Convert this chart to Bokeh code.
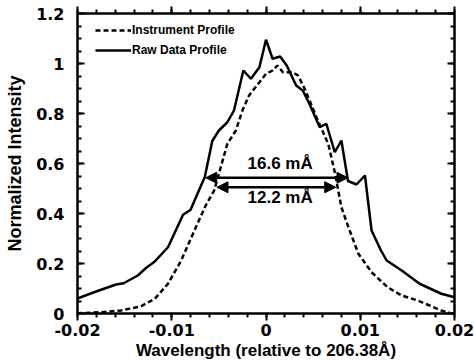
from bokeh.plotting import figure
from bokeh.models import (Legend, LegendItem, LinearAxis, FixedTicker, Arrow, NormalHead,
                          CustomJSTickFormatter, Range1d, Label)
from bokeh.embed import file_html
from bokeh.resources import INLINE

# Raw data profile (solid)
raw_x = [-0.0200, -0.0186, -0.0175, -0.0159, -0.0151, -0.0136, -0.0127, -0.0118, -0.0104,
         -0.0088, -0.0080, -0.0068, -0.0065, -0.0057, -0.0050, -0.0041, -0.0034, -0.0024,
         -0.0016, -0.0007, 0.0000, 0.0007, 0.0015, 0.0022, 0.0032, 0.0039, 0.0046, 0.0057,
         0.0064, 0.0073, 0.0080, 0.0087, 0.0096, 0.0105, 0.0112, 0.0122, 0.0128, 0.0144,
         0.0163, 0.0186, 0.0200]
raw_y = [0.060, 0.080, 0.095, 0.116, 0.121, 0.152, 0.183, 0.208, 0.265,
         0.395, 0.415, 0.520, 0.545, 0.690, 0.732, 0.765, 0.812, 0.972,
         0.939, 0.985, 1.095, 1.019, 1.028, 0.992, 0.912, 0.892, 0.839, 0.745,
         0.759, 0.645, 0.692, 0.530, 0.516, 0.552, 0.332, 0.252, 0.212, 0.172,
         0.119, 0.079, 0.065]

# Instrument profile (dashed)
inst_x = [-0.0200, -0.0175, -0.0154, -0.0133, -0.0118, -0.0104, -0.0090, -0.0076, -0.0064,
          -0.0055, -0.0051, -0.0041, -0.0032, -0.0025, -0.0018, -0.0007, 0.0000, 0.0007,
          0.0012, 0.0018, 0.0028, 0.0034, 0.0041, 0.0055, 0.0066, 0.0073, 0.0080, 0.0087,
          0.0098, 0.0112, 0.0129, 0.0144, 0.0161, 0.0186, 0.0195]
inst_y = [0.001, 0.005, 0.012, 0.028, 0.059, 0.119, 0.212, 0.332, 0.432,
          0.492, 0.545, 0.679, 0.732, 0.812, 0.872, 0.925, 0.959, 0.972,
          0.992, 0.965, 0.965, 0.952, 0.899, 0.772, 0.679, 0.565, 0.425, 0.350,
          0.239, 0.165, 0.105, 0.072, 0.052, 0.012, 0.003]

# Width annotations
width_labels = ["16.6 mÅ", "12.2 mÅ"]
width_x0 = [-0.0064, -0.0052]
width_x1 = [0.0087, 0.0074]
width_y = [0.543, 0.505]
width_label_x = [0.0015, 0.0015]
width_label_y = [0.601, 0.465]

x_ticks = [-0.02, -0.01, 0.0, 0.01, 0.02]
x_tick_labels = ["-0.02", "-0.01", "0", "0.01", "0.02"]
y_ticks = [0.0, 0.2, 0.4, 0.6, 0.8, 1.0, 1.2]
y_tick_labels = ["0", "0.2", "0.4", "0.6", "0.8", "1", "1.2"]
x_minor = [round(-0.02 + 0.002 * i, 4) for i in range(21)]
y_minor = [round(0.05 * i, 3) for i in range(25)]

FONT = "Liberation Sans"
TICKFONT = "DejaVu Sans"

p = figure(width=474, height=363, output_backend="svg", toolbar_location=None,
           x_range=Range1d(-0.02, 0.02), y_range=Range1d(0, 1.2),
           x_axis_type=None, y_axis_type=None,
           min_border_left=77, min_border_right=20, min_border_top=13, min_border_bottom=50)
p.grid.visible = False
p.outline_line_color = "black"
p.outline_line_width = 2
p.background_fill_color = "white"
p.border_fill_color = "white"

xt = FixedTicker(ticks=x_ticks, minor_ticks=x_minor)
yt = FixedTicker(ticks=y_ticks, minor_ticks=y_minor)
empty = CustomJSTickFormatter(code="return ''")


def style(ax, inward):
    ax.axis_line_width = 2
    ax.major_tick_line_width = 2
    ax.minor_tick_line_width = 2
    if inward:
        ax.major_tick_in, ax.major_tick_out = 7, 0
        ax.minor_tick_in, ax.minor_tick_out = 4, 0
    else:
        ax.major_tick_in, ax.major_tick_out = 0, 7
        ax.minor_tick_in, ax.minor_tick_out = 0, 4
    ax.major_label_text_font = TICKFONT
    ax.major_label_text_font_style = "bold"
    ax.major_label_text_font_size = "16px"
    ax.major_label_text_color = "black"
    ax.axis_label_text_font = FONT
    ax.axis_label_text_font_style = "bold"
    ax.axis_label_text_font_size = "17px"
    ax.axis_label_text_color = "black"


xb = LinearAxis(ticker=xt, axis_label="Wavelength (relative to 206.38Å)",
                major_label_overrides={t: l for t, l in zip(x_ticks, x_tick_labels)})
style(xb, False)
xb.major_label_standoff = 3
xb.axis_label_standoff = 2
p.add_layout(xb, "below")

yl = LinearAxis(ticker=yt, axis_label="Normalized Intensity",
                major_label_overrides={t: l for t, l in zip(y_ticks, y_tick_labels)})
style(yl, True)
yl.axis_label_text_font_size = "18px"
yl.major_label_standoff = 13
yl.axis_label_standoff = 8
p.add_layout(yl, "left")

xa = LinearAxis(ticker=xt, formatter=empty)
style(xa, False)
xa.major_label_standoff = 0
xa.major_label_text_font_size = "1px"
p.add_layout(xa, "above")

yr = LinearAxis(ticker=yt, formatter=empty)
style(yr, True)
yr.major_label_standoff = 0
yr.major_label_text_font_size = "1px"
p.add_layout(yr, "right")

r_inst = p.line(inst_x, inst_y, line_color="black", line_width=2.5, line_dash="5 3")
r_raw = p.line(raw_x, raw_y, line_color="black", line_width=2.5)

for x0, x1, y in zip(width_x0, width_x1, width_y):
    p.add_layout(Arrow(x_start=x0, y_start=y, x_end=x1, y_end=y, line_width=2.5,
                       line_color="black",
                       start=NormalHead(size=11, fill_color="black", line_color="black"),
                       end=NormalHead(size=11, fill_color="black", line_color="black")))

for t, lx, ly in zip(width_labels, width_label_x, width_label_y):
    p.add_layout(Label(x=lx, y=ly, text=t, text_align="center", text_baseline="middle",
                       text_font=FONT, text_font_style="bold", text_font_size="17px",
                       text_color="black"))

legend = Legend(items=[LegendItem(label="Instrument Profile", renderers=[r_inst]),
                       LegendItem(label="Raw Data Profile", renderers=[r_raw])],
                location=(18, 253), orientation="vertical",
                glyph_width=36, glyph_height=20, label_height=20, spacing=0,
                padding=0, margin=0, label_standoff=1,
                label_text_font=FONT, label_text_font_style="bold",
                label_text_font_size="12px", label_text_color="black",
                background_fill_alpha=0, border_line_color=None)
p.add_layout(legend)

open("out.html", "w").write(file_html(p, INLINE))
